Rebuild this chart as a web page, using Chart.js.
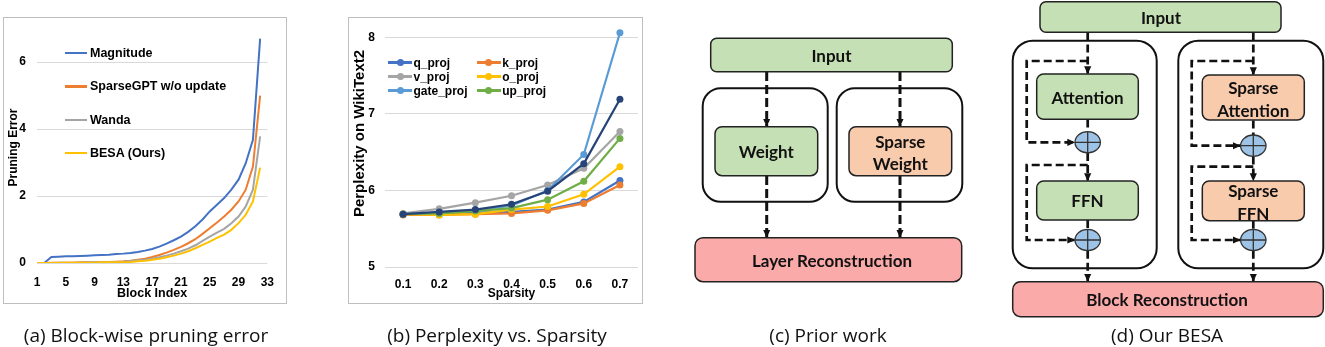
<!DOCTYPE html>
<html>
<head>
<meta charset="utf-8">
<script src="https://cdn.jsdelivr.net/npm/chart.js@4.4.0/dist/chart.umd.min.js"></script>
<style>
  body { margin: 0; background: #fff; }
  #page { position: relative; width: 1325px; height: 347px; overflow: hidden; background: #fff; }
  .frame { position: absolute; box-sizing: border-box; border: 1.5px solid #bfbfbf; }
  canvas { position: absolute; }
  .legend { position: absolute; font-family: 'Liberation Sans', Arial, Helvetica, sans-serif; font-weight: bold; color: #000; }
  .legA .row { display: flex; align-items: center; height: 33.4px; }
  .legA .swatch { width: 22px; height: 2.5px; margin-right: 3px; }
  .legA span { font-size: 12.5px; }
  .legB { display: grid; grid-template-columns: 88.7px auto; }
  .legB .row { display: flex; align-items: center; height: 14px; }
  .legB .swatch { position: relative; width: 24px; height: 2.5px; margin-right: 1.5px; }
  .legB .dot { position: absolute; left: 8.5px; top: -2.25px; width: 7px; height: 7px; border-radius: 50%; }
  .legB span { font-size: 12px; }
  .caption { position: absolute; width: 400px; text-align: center; font-family: 'Open Sans', 'Noto Sans', sans-serif; font-size: 19px; line-height: 24px; color: #111; }
  svg text { font-family: Lato, 'Open Sans', sans-serif; font-weight: 700; font-size: 17px; fill: #111; }
</style>
</head>
<body>
<div id="page">
  <div class="frame" style="left:3px; top:17px; width:284px; height:287px;"></div>
  <canvas id="errorChart" width="282" height="285" style="left:4px; top:18px;"></canvas>
  <div id="legendA" class="legend legA" style="left:65px; top:36.3px;"></div>

  <div class="frame" style="left:348px; top:17px; width:295px; height:287px;"></div>
  <canvas id="pplChart" width="293" height="285" style="left:349px; top:18px;"></canvas>
  <div id="legendB" class="legend legB" style="left:388px; top:55.7px;"></div>

  <svg width="1325" height="347" style="position:absolute; left:0; top:0;">
    <defs>
      <marker id="ah" viewBox="0 0 10 10" refX="9" refY="5" markerWidth="8" markerHeight="8" markerUnits="userSpaceOnUse" orient="auto">
        <path d="M0,0.5 L10,5 L0,9.5 z" fill="#111"/>
      </marker>
    </defs>
    <!-- (c) prior work -->
    <g stroke="#111" stroke-width="2" fill="none">
      <rect x="702.7" y="88.3" width="125" height="113.4" rx="18"/>
      <rect x="836.7" y="88.3" width="125.6" height="113.4" rx="18"/>
    </g>
    <g stroke="#111" stroke-width="3" stroke-dasharray="9 4" fill="none">
      <line x1="766.7" y1="72" x2="766.7" y2="126" marker-end="url(#ah)"/>
      <line x1="900" y1="72" x2="900" y2="126" marker-end="url(#ah)"/>
      <line x1="766.7" y1="176" x2="766.7" y2="237" marker-end="url(#ah)"/>
      <line x1="900" y1="176" x2="900" y2="237" marker-end="url(#ah)"/>
    </g>
    <g stroke="#222" stroke-width="1.5">
      <rect x="710.7" y="38.3" width="241.6" height="33.4" rx="6" fill="#C5E0B4"/>
      <rect x="715" y="126.7" width="102.7" height="49" rx="7" fill="#C5E0B4"/>
      <rect x="849" y="126.7" width="102.7" height="49" rx="7" fill="#F8CBAD"/>
      <rect x="695" y="237.7" width="266.7" height="44" rx="8" fill="#FBAAAA"/>
    </g>
    <text x="831.5" y="55" text-anchor="middle" dominant-baseline="central">Input</text>
    <text x="766.3" y="151.2" text-anchor="middle" dominant-baseline="central">Weight</text>
    <text x="900.3" y="141.5" text-anchor="middle" dominant-baseline="central">Sparse</text>
    <text x="900.3" y="163.3" text-anchor="middle" dominant-baseline="central">Weight</text>
    <text x="832" y="260" text-anchor="middle" dominant-baseline="central">Layer Reconstruction</text>

    <!-- (d) our BESA -->
    <g stroke="#111" stroke-width="2" fill="none">
      <rect x="1012.7" y="40.7" width="144" height="227.6" rx="20"/>
      <rect x="1178.3" y="40.7" width="145" height="227.6" rx="20"/>
    </g>
    <g stroke="#111" stroke-width="2.7" stroke-dasharray="8 4" fill="none">
      <line x1="1087.7" y1="32.5" x2="1087.7" y2="73.5" marker-end="url(#ah)"/>
      <line x1="1087.7" y1="119.5" x2="1087.7" y2="131.6"/>
      <line x1="1087.7" y1="153" x2="1087.7" y2="180.5" marker-end="url(#ah)"/>
      <line x1="1087.7" y1="220" x2="1087.7" y2="229.3"/>
      <line x1="1087.7" y1="250.7" x2="1087.7" y2="281" marker-end="url(#ah)"/>
      <path d="M1087.7,61 H1026.7 V142.3 H1074.5" marker-end="url(#ah)"/>
      <path d="M1087.7,165 H1026.7 V240 H1074.5" marker-end="url(#ah)"/>
      <line x1="1253.3" y1="32.5" x2="1253.3" y2="74.5" marker-end="url(#ah)"/>
      <line x1="1253.3" y1="120.5" x2="1253.3" y2="135"/>
      <line x1="1253.3" y1="156.4" x2="1253.3" y2="180.5" marker-end="url(#ah)"/>
      <line x1="1253.3" y1="220.7" x2="1253.3" y2="229.3"/>
      <line x1="1253.3" y1="250.7" x2="1253.3" y2="281" marker-end="url(#ah)"/>
      <path d="M1253.3,61 H1191.7 V145.7 H1240" marker-end="url(#ah)"/>
      <path d="M1253.3,166.7 H1191.7 V240 H1240" marker-end="url(#ah)"/>
    </g>
    <g stroke="#222" stroke-width="1.5">
      <rect x="1040" y="1.7" width="241" height="30.6" rx="6" fill="#C5E0B4"/>
      <rect x="1036.7" y="74" width="101.6" height="45.3" rx="7" fill="#C5E0B4"/>
      <rect x="1202.3" y="75" width="102" height="45" rx="7" fill="#F8CBAD"/>
      <rect x="1036.7" y="181" width="101.6" height="39" rx="7" fill="#C5E0B4"/>
      <rect x="1202.3" y="181" width="102" height="39.7" rx="7" fill="#F8CBAD"/>
      <rect x="1012.7" y="281.7" width="310.6" height="35" rx="8" fill="#FBAAAA"/>
    </g>
    <g stroke="#333" stroke-width="1.3" fill="#9DC3E6">
      <ellipse cx="1087.7" cy="142.3" rx="12.7" ry="10.7"/>
      <ellipse cx="1253.3" cy="145.7" rx="12.7" ry="10.7"/>
      <ellipse cx="1087.7" cy="240" rx="12.7" ry="10.7"/>
      <ellipse cx="1253.3" cy="240" rx="12.7" ry="10.7"/>
      <path d="M1075,142.3 H1100.4 M1087.7,131.6 V153 M1240.6,145.7 H1266 M1253.3,135 V156.4 M1075,240 H1100.4 M1087.7,229.3 V250.7 M1240.6,240 H1266 M1253.3,229.3 V250.7" fill="none"/>
    </g>
    <text x="1161" y="17" text-anchor="middle" dominant-baseline="central">Input</text>
    <text x="1087.5" y="97" text-anchor="middle" dominant-baseline="central">Attention</text>
    <text x="1253.3" y="87" text-anchor="middle" dominant-baseline="central">Sparse</text>
    <text x="1253.3" y="110" text-anchor="middle" dominant-baseline="central">Attention</text>
    <text x="1087.5" y="200.5" text-anchor="middle" dominant-baseline="central">FFN</text>
    <text x="1253.3" y="190.7" text-anchor="middle" dominant-baseline="central">Sparse</text>
    <text x="1253.3" y="213" text-anchor="middle" dominant-baseline="central">FFN</text>
    <text x="1167" y="299" text-anchor="middle" dominant-baseline="central">Block Reconstruction</text>
  </svg>

  <div class="caption" style="left:-54px; top:323px;">(a) Block-wise pruning error</div>
  <div class="caption" style="left:297px; top:323px;">(b) Perplexity vs. Sparsity</div>
  <div class="caption" style="left:628px; top:323px;">(c) Prior work</div>
  <div class="caption" style="left:967px; top:323px;">(d) Our BESA</div>
</div>

<script>
// (a) block-wise pruning error
const blockIndex = [1, 2, 3, 4, 5, 6, 7, 8, 9, 10, 11, 12, 13, 14, 15, 16,
  17, 18, 19, 20, 21, 22, 23, 24, 25, 26, 27, 28, 29, 30, 31, 32];
const blockTicks = [1, 5, 9, 13, 17, 21, 25, 29, 33];
const errTicks = [0, 2, 4, 6];
const magnitudeErr = [0, 0, 0.18, 0.19, 0.2, 0.2, 0.21, 0.22, 0.23, 0.24, 0.25, 0.27, 0.28, 0.3, 0.33, 0.37,
  0.42, 0.49, 0.58, 0.68, 0.79, 0.93, 1.1, 1.3, 1.54, 1.74, 1.94, 2.19, 2.49, 2.98, 3.68, 6.7];
const sparseGptErr = [0, 0, 0.01, 0.01, 0.01, 0.01, 0.02, 0.02, 0.02, 0.03, 0.03, 0.04, 0.05, 0.07, 0.1, 0.13,
  0.18, 0.24, 0.31, 0.39, 0.48, 0.59, 0.71, 0.87, 1.04, 1.21, 1.39, 1.59, 1.84, 2.19, 2.88, 5.0];
const wandaErr = [0, 0, 0, 0.01, 0.01, 0.01, 0.01, 0.02, 0.02, 0.02, 0.03, 0.03, 0.04, 0.06, 0.08, 0.1,
  0.13, 0.17, 0.22, 0.28, 0.35, 0.43, 0.53, 0.66, 0.79, 0.91, 1.02, 1.19, 1.39, 1.69, 2.19, 3.78];
const besaErr = [0, 0, 0, 0, 0.01, 0.01, 0.01, 0.01, 0.01, 0.02, 0.02, 0.02, 0.02, 0.03, 0.05, 0.07,
  0.1, 0.13, 0.17, 0.22, 0.28, 0.35, 0.44, 0.54, 0.64, 0.75, 0.85, 0.99, 1.19, 1.44, 1.84, 2.85];

// (b) perplexity vs sparsity
const sparsity = ['0.1', '0.2', '0.3', '0.4', '0.5', '0.6', '0.7'];
const pplTicks = [5, 6, 7, 8];
const qProj = [5.69, 5.70, 5.71, 5.72, 5.75, 5.85, 6.13];
const kProj = [5.68, 5.68, 5.69, 5.70, 5.74, 5.83, 6.07];
const vProj = [5.70, 5.76, 5.84, 5.93, 6.07, 6.29, 6.77];
const oProj = [5.69, 5.68, 5.69, 5.75, 5.79, 5.95, 6.31];
const gateProj = [5.69, 5.71, 5.74, 5.80, 6.00, 6.47, 8.06];
const upProj = [5.69, 5.70, 5.73, 5.77, 5.88, 6.12, 6.68];
const downProj = [5.69, 5.72, 5.75, 5.82, 5.99, 6.35, 7.19];
const pplYTitle = 'Perplexity on WikiText2';

const FONT = "'Liberation Sans', Arial, Helvetica, sans-serif";
const tickFont = { family: FONT, size: 12, weight: 'bold' };

const errSeries = [
  { label: 'Magnitude', data: magnitudeErr, color: '#4472C4' },
  { label: 'SparseGPT w/o update', data: sparseGptErr, color: '#ED7D31' },
  { label: 'Wanda', data: wandaErr, color: '#A5A5A5' },
  { label: 'BESA (Ours)', data: besaErr, color: '#FFC000' }
];

const errorChart = new Chart(document.getElementById('errorChart'), {
  type: 'line',
  data: {
    datasets: errSeries.map((s, i) => ({
      label: s.label,
      data: blockIndex.map((b, j) => ({ x: b, y: s.data[j] })),
      borderColor: s.color,
      backgroundColor: s.color,
      borderWidth: 2,
      pointRadius: 0,
      tension: 0,
      order: errSeries.length - i
    }))
  },
  options: {
    responsive: false,
    animation: false,
    layout: { padding: { left: 0, right: 10, top: 14, bottom: 0 } },
    plugins: { legend: { display: false }, tooltip: { enabled: false } },
    scales: {
      x: {
        type: 'linear', min: 1, max: 33,
        afterBuildTicks: (s) => { s.ticks = blockTicks.map(v => ({ value: v })); },
        afterFit: (s) => { s.height = 40; },
        grid: { display: false, drawTicks: false },
        border: { display: false },
        ticks: { font: tickFont, color: '#000', padding: 12, maxRotation: 0, autoSkip: false },
        title: { display: true, text: 'Block Index', color: '#000',
          font: { family: FONT, size: 12.5, weight: 'bold' }, padding: { top: 0, bottom: 2 } }
      },
      y: {
        min: 0, max: 6.9,
        afterBuildTicks: (s) => { s.ticks = errTicks.map(v => ({ value: v })); },
        afterFit: (s) => { s.width = 33; s.paddingTop = 0; s.paddingBottom = 0; },
        grid: { color: '#d9d9d9', drawTicks: false },
        border: { display: false },
        ticks: { font: tickFont, color: '#000', padding: 11 },
        title: { display: true, text: 'Pruning Error', color: '#000',
          font: { family: FONT, size: 12, weight: 'bold' }, padding: { top: 2, bottom: 0 } }
      }
    }
  }
});

const pplSeries = [
  { label: 'q_proj', data: qProj, color: '#4472C4' },
  { label: 'k_proj', data: kProj, color: '#ED7D31' },
  { label: 'v_proj', data: vProj, color: '#A5A5A5' },
  { label: 'o_proj', data: oProj, color: '#FFC000' },
  { label: 'gate_proj', data: gateProj, color: '#5B9BD5' },
  { label: 'up_proj', data: upProj, color: '#70AD47' },
  { label: 'down_proj', data: downProj, color: '#264478', noLegend: true }
];

// y title of (b) sits above the axis centre, so it is drawn here
const yTitlePlugin = {
  id: 'yTitle',
  afterDraw(chart) {
    const ctx = chart.ctx;
    ctx.save();
    ctx.font = 'bold 15px ' + FONT;
    ctx.fillStyle = '#000';
    ctx.textAlign = 'center';
    ctx.textBaseline = 'middle';
    ctx.translate(11, 115.5);
    ctx.rotate(-Math.PI / 2);
    ctx.fillText(pplYTitle, 0, 0);
    ctx.restore();
  }
};

const pplChart = new Chart(document.getElementById('pplChart'), {
  type: 'line',
  data: {
    labels: sparsity,
    datasets: pplSeries.map((s, i) => ({
      label: s.label,
      data: s.data,
      borderColor: s.color,
      backgroundColor: s.color,
      pointBackgroundColor: s.color,
      pointBorderWidth: 0,
      pointRadius: 3.5,
      borderWidth: 2.2,
      tension: 0,
      order: pplSeries.length - i
    }))
  },
  options: {
    responsive: false,
    animation: false,
    layout: { padding: { left: 0, right: 1, top: 3, bottom: 0 } },
    plugins: { legend: { display: false }, tooltip: { enabled: false } },
    scales: {
      x: {
        offset: true,
        afterFit: (s) => { s.height = 36; },
        grid: { display: false, drawTicks: false },
        border: { display: false },
        ticks: { font: tickFont, color: '#000', padding: 10, maxRotation: 0, autoSkip: false },
        title: { display: true, text: 'Sparsity', color: '#000',
          font: { family: FONT, size: 12, weight: 'bold' }, padding: { top: 0, bottom: 2.5 } }
      },
      y: {
        min: 5, max: 8.2,
        afterBuildTicks: (s) => { s.ticks = pplTicks.map(v => ({ value: v })); },
        afterFit: (s) => { s.width = 36; s.paddingTop = 0; s.paddingBottom = 0; },
        grid: { color: '#d9d9d9', drawTicks: false },
        border: { display: false },
        ticks: { font: tickFont, color: '#000', padding: 10 }
      }
    }
  },
  plugins: [yTitlePlugin]
});

// html legends built from the series lists
const legA = document.getElementById('legendA');
errSeries.forEach(s => {
  const row = document.createElement('div');
  row.className = 'row';
  row.innerHTML = '<div class="swatch" style="background:' + s.color + '"></div><span>' + s.label + '</span>';
  legA.appendChild(row);
});
const legB = document.getElementById('legendB');
pplSeries.filter(s => !s.noLegend).forEach(s => {
  const row = document.createElement('div');
  row.className = 'row';
  row.innerHTML = '<div class="swatch" style="background:' + s.color + '"><div class="dot" style="background:' + s.color + '"></div></div><span>' + s.label + '</span>';
  legB.appendChild(row);
});
</script>
</body>
</html>
